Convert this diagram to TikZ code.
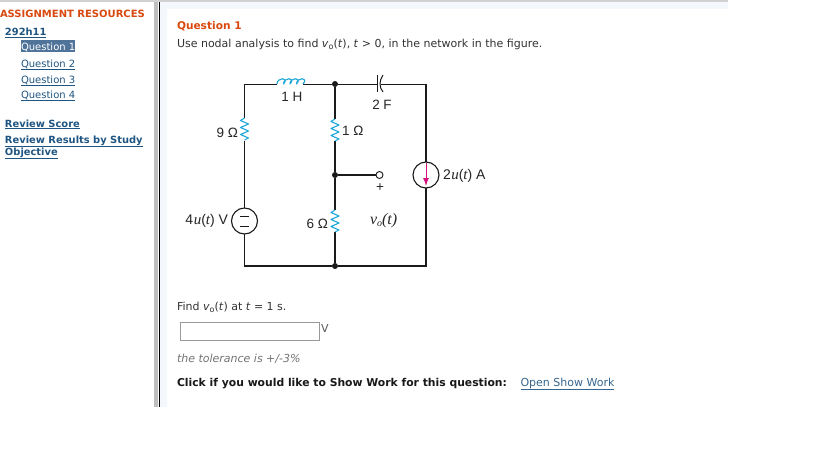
\documentclass[tikz,border=0pt]{standalone}
\usepackage{fontspec}
\setmainfont{DejaVu Sans}
\newfontfamily\circf{Liberation Sans}
\newfontfamily\circi{Liberation Serif}
\usetikzlibrary{arrows.meta}
\definecolor{linkc}{HTML}{1F5582}
\definecolor{headc}{HTML}{D9480F}
\definecolor{bodyc}{HTML}{333333}
\definecolor{selc}{HTML}{4F7399}
\definecolor{resc}{HTML}{1CA6D8}
\definecolor{magc}{HTML}{D6127F}
\definecolor{wirec}{HTML}{1A1A1A}
\definecolor{panelc}{HTML}{F4F7FB}
\newcommand{\ulnk}[1]{\underline{#1}}
\newcommand{\subo}{\raisebox{-2pt}{\fontsize{8}{9}\selectfont o}}
\tikzset{
 x=1pt,y=-1pt,
 every node/.style={inner sep=0pt,outer sep=0pt,font=\fontsize{10.9}{12}\selectfont,text=bodyc},
 nav/.style={anchor=base west,text=linkc,font=\fontsize{10}{12}\selectfont},
 navb/.style={anchor=base west,text=linkc,font=\fontsize{9.9}{12}\selectfont\bfseries},
 txt/.style={anchor=base west,text=bodyc,font=\fontsize{11}{12}\selectfont},
 clab/.style={text=black!85,font=\fontsize{13.5}{14}\selectfont\circf},
 thinw/.style={draw=wirec,line width=0.8pt},
 thickw/.style={draw=wirec,line width=1.5pt},
 rzig/.style={draw=resc,line width=1.1pt,line join=round},
 dotn/.style={circle,fill=wirec,minimum size=6pt},
 src/.style={circle,draw=wirec,fill=white,line width=1.1pt,minimum size=26pt}
}
\begin{document}
\begin{tikzpicture}
\useasboundingbox (0,0) rectangle (819,460);
\fill[white] (0,0) rectangle (819,460);
\fill[panelc] (160,2) rectangle (728,9);
\fill[panelc] (160,9) rectangle (167,407);
\fill[black!18] (0,0) rectangle (728,2);
\fill[black!25] (154,2) rectangle (158,407);
\fill[black] (159,2) rectangle (160,407);
% sidebar
\node[anchor=base west,text=headc,font=\fontsize{10}{12}\selectfont\bfseries] (hdr) at (0,18) {ASSIGNMENT RESOURCES};
\node[navb] (hw) at (5,36) {\ulnk{292h11}};
\fill[selc] (21,40) rectangle (75,52);
\node[nav,text=white] (q1) at (21,51) {Question 1};
\node[nav] (q2) at (21,67) {\ulnk{Question 2}};
\node[nav] (q3) at (21,83) {\ulnk{Question 3}};
\node[nav] (q4) at (21,98) {\ulnk{Question 4}};
\node[navb] (rs) at (5,127) {\ulnk{Review Score}};
\node[navb] (rr) at (5,143) {\ulnk{Review Results by Study}};
\node[navb] (ob) at (5,155) {\ulnk{Objective}};
% question
\node[anchor=base west,text=headc,font=\fontsize{10.6}{12}\selectfont\bfseries] (qt) at (177,30) {Question 1};
\node[txt] (t1) at (177,48) {Use nodal analysis to find \textit{v}\subo(\textit{t}), \textit{t} > 0, in the network in the figure.};
% circuit coordinates
\coordinate (tl) at (244.5,84);
\coordinate (ls) at (277,84);
\coordinate (le) at (303,84);
\coordinate (c1) at (377,84);
\coordinate (c2) at (381,84);
\coordinate (tr) at (426,84);
\coordinate (r9a) at (244.5,118);
\coordinate (r9b) at (244.5,141);
\coordinate (r1a) at (335,119);
\coordinate (r1b) at (335,141);
\coordinate (r6a) at (335,210);
\coordinate (r6b) at (335,232);
\coordinate (bl) at (244.5,266);
\coordinate (br) at (426,266);
\node[dotn] (jt) at (335,84) {};
\node[dotn] (jm) at (335,175) {};
\node[dotn] (jb) at (335,266) {};
\node[circle,draw=wirec,fill=white,line width=0.9pt,minimum size=7pt] (term) at (379.5,175) {};
\node[src] (vs) at (244.5,221) {};
\node[src] (cs) at (426,175) {};
% wires
\draw[thinw] (ls) -- (tl) -- (r9a);
\draw[thinw] (r9b) -- (vs);
\draw[thinw] (le) -- (jt) -- (c1);
\draw[thinw] (c2) -- (tr);
\draw[thickw] (tr) -- (cs);
\draw[thickw] (jt) -- (r1a);
\draw[thickw] (r1b) -- (jm) -- (r6a);
\draw[thickw] (jm) -- (term);
\draw[thickw] (r6b) -- (jb);
\draw[thickw] (vs) -- (bl) -- (jb) -- (br) -- (cs);
% resistors
\foreach \a in {r9a,r1a,r6a}{
 \draw[rzig] (\a) -- ++(-4,2.5) -- ++(8,3.5) -- ++(-8,3.5) -- ++(8,3.5) -- ++(-8,3.5) -- ++(8,3.5) -- ++(-4,2);
}
% inductor
\draw[rzig] (ls) .. controls +(0,-7) and +(6.5,-7) .. ++(6.5,0)
 .. controls +(0,-7) and +(6.5,-7) .. ++(6.5,0)
 .. controls +(0,-7) and +(6.5,-7) .. ++(6.5,0)
 .. controls +(0,-7) and +(6.5,-7) .. (le);
% capacitor
\draw[wirec,line width=1pt] (377,75) -- (377,92);
\draw[wirec,line width=1pt] (383,75) .. controls (379,81) and (379,87) .. (383,92);
% source marks
\draw[wirec,line width=0.8pt] (240,216.5) -- (249,216.5);
\draw[wirec,line width=0.8pt] (240,226.5) -- (249,226.5);
\coordinate (aa) at (426,163);
\coordinate (ab) at (426,186);
\draw[magc,line width=1pt,-{Latex[length=8pt,width=6pt]}] (aa) -- (ab);
% circuit labels
\node[clab] (l1h) at (292,97) {1 H};
\node[clab] (l2f) at (382,104.5) {2 F};
\node[clab,anchor=east] (l9) at (238,133) {9 Ω};
\node[clab,anchor=west] (l1) at (342,131) {1 Ω};
\node[clab,anchor=east] (l6) at (328,224) {6 Ω};
\node[clab,anchor=west,font=\fontsize{14}{15}\selectfont\circf] (l2u) at (443,175.5) {2\hspace{0.5pt}{\fontsize{15}{15}\selectfont\circi\itshape u}({\fontsize{15}{15}\selectfont\circi\itshape t}) A};
\node[clab,anchor=east,font=\fontsize{14}{15}\selectfont\circf] (l4u) at (228,221) {4\hspace{0.5pt}{\fontsize{15}{15}\selectfont\circi\itshape u}({\fontsize{15}{15}\selectfont\circi\itshape t}) V};
\node[clab] (lp) at (380,188) {+};
\node[clab,anchor=west,font=\fontsize{16}{17}\selectfont\circi\itshape] (lv) at (370,221) {v\raisebox{-2pt}{\fontsize{10}{10}\selectfont o}(t)};
% find
\node[txt] (f1) at (177,310) {Find \textit{v}\subo(\textit{t}) at \textit{t} = 1 s.};
\node[draw=black!40,fill=white,line width=0.7pt,minimum width=139pt,minimum height=18pt,anchor=north west] (box) at (180.5,322.5) {};
\node[txt,text=black!65] (v) at (321,332) {V};
\node[txt,text=black!55,font=\fontsize{11}{12}\selectfont\itshape] (tol) at (177,362) {the tolerance is +/-3\%};
\node[txt,text=black!90,font=\fontsize{10.8}{12}\selectfont\bfseries] (cl) at (177,386) {Click if you would like to Show Work for this question:};
\node[txt,text=linkc!90!white] (op) at (520.5,386) {\ulnk{Open Show Work}};
\end{tikzpicture}
\end{document}
